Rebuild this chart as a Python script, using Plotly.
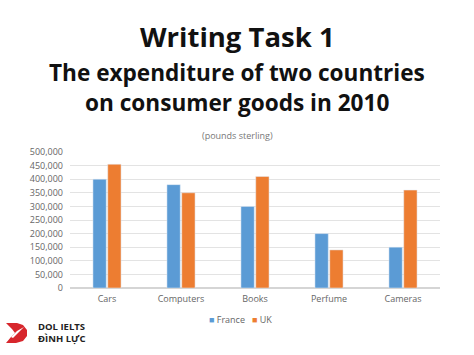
import plotly.graph_objects as go

categories = ["Cars", "Computers", "Books", "Perfume", "Cameras"]
france = [400000, 380000, 300000, 200000, 150000]
uk = [455000, 350000, 410000, 140000, 360000]
tick_vals = [0, 50000, 100000, 150000, 200000, 250000, 300000, 350000, 400000, 450000, 500000]
tick_text = ["0", "50,000", "100,000", "150,000", "200,000", "250,000", "300,000",
             "350,000", "400,000", "450,000", "500,000"]
colors = {"France": "#5B9BD5", "UK": "#ED7D31"}

W, H = 474, 355
L, R, T, B = 70, 34, 152, 67
PW, PH = W - L - R, H - T - B

def px(x):
    return (x - L) / PW

def py(y):
    return (H - B - y) / PH

def poly(pts):
    return "M " + " L ".join(f"{px(x)},{py(y)}" for x, y in pts) + " Z"

fig = go.Figure()
fig.add_trace(go.Bar(name="France", x=categories, y=france, marker_color=colors["France"]))
fig.add_trace(go.Bar(name="UK", x=categories, y=uk, marker_color=colors["UK"]))

fig.update_layout(
    width=W, height=H,
    margin=dict(l=L, r=R, t=T, b=B),
    paper_bgcolor="white", plot_bgcolor="white",
    barmode="group", bargap=0.6, bargroupgap=0.1,
    font=dict(family="Open Sans", color="#777"),
    showlegend=False,
    xaxis=dict(showgrid=False, showline=False, ticks="", tickfont=dict(size=9, color="#666"),
               ticklabelstandoff=4),
    yaxis=dict(range=[0, 500000], tickvals=tick_vals, ticktext=tick_text,
               showgrid=True, gridcolor="#e3e3e3", gridwidth=1, zeroline=True,
               zerolinecolor="#d5d5d5", showline=False, ticks="",
               tickfont=dict(size=9, color="#666"), ticklabelstandoff=6),
)

ann = []
ann.append(dict(text="<b>Writing Task 1</b>", x=0.5, y=37, font=dict(size=27.5, color="#111")))
ann.append(dict(text="<b>The expenditure of two countries</b>", x=0.5, y=72, font=dict(size=22.6, color="#111")))
ann.append(dict(text="<b>on consumer goods in 2010</b>", x=0.5, y=102, font=dict(size=22.6, color="#111")))
ann.append(dict(text="(pounds sterling)", x=0.5, y=135, font=dict(size=9, color="#777")))
for a in ann:
    fig.add_annotation(text=a["text"], xref="paper", yref="paper",
                       x=px(W * a["x"]), y=py(a["y"]), showarrow=False,
                       xanchor="center", yanchor="middle",
                       font=dict(family="Open Sans", **a["font"]))

# legend drawn as text
legend_html = "   ".join(
    f"<span style='color:{colors[n]}'>■</span> {n}" for n in ["France", "UK"])
fig.add_annotation(text=legend_html, xref="paper", yref="paper", x=px(240), y=py(319),
                   xanchor="center", yanchor="middle", showarrow=False,
                   font=dict(family="Open Sans", size=9, color="#666"))

fig.add_annotation(text="<b>DOL IELTS<br>ĐÌNH LỰC</b>", xref="paper", yref="paper",
                   x=px(36), y=py(332), xanchor="left", yanchor="middle", showarrow=False,
                   align="left", font=dict(family="Open Sans", size=9.5, color="#222"))

# logo shape
outer = [(6, 323), (17, 323), (23, 325), (27, 330), (27, 336), (23, 341), (16, 343), (6, 343), (11, 337), (15, 333), (12, 329)]
fig.add_shape(type="path", path=poly(outer), xref="paper", yref="paper",
              fillcolor="#D7262C", line=dict(width=0), layer="above")
cut = [(11, 337), (17, 331), (24, 327), (18, 333), (13, 338)]
fig.add_shape(type="path", path=poly(cut), xref="paper", yref="paper",
              fillcolor="white", line=dict(width=0), layer="above")

fig.write_html("out.html")
